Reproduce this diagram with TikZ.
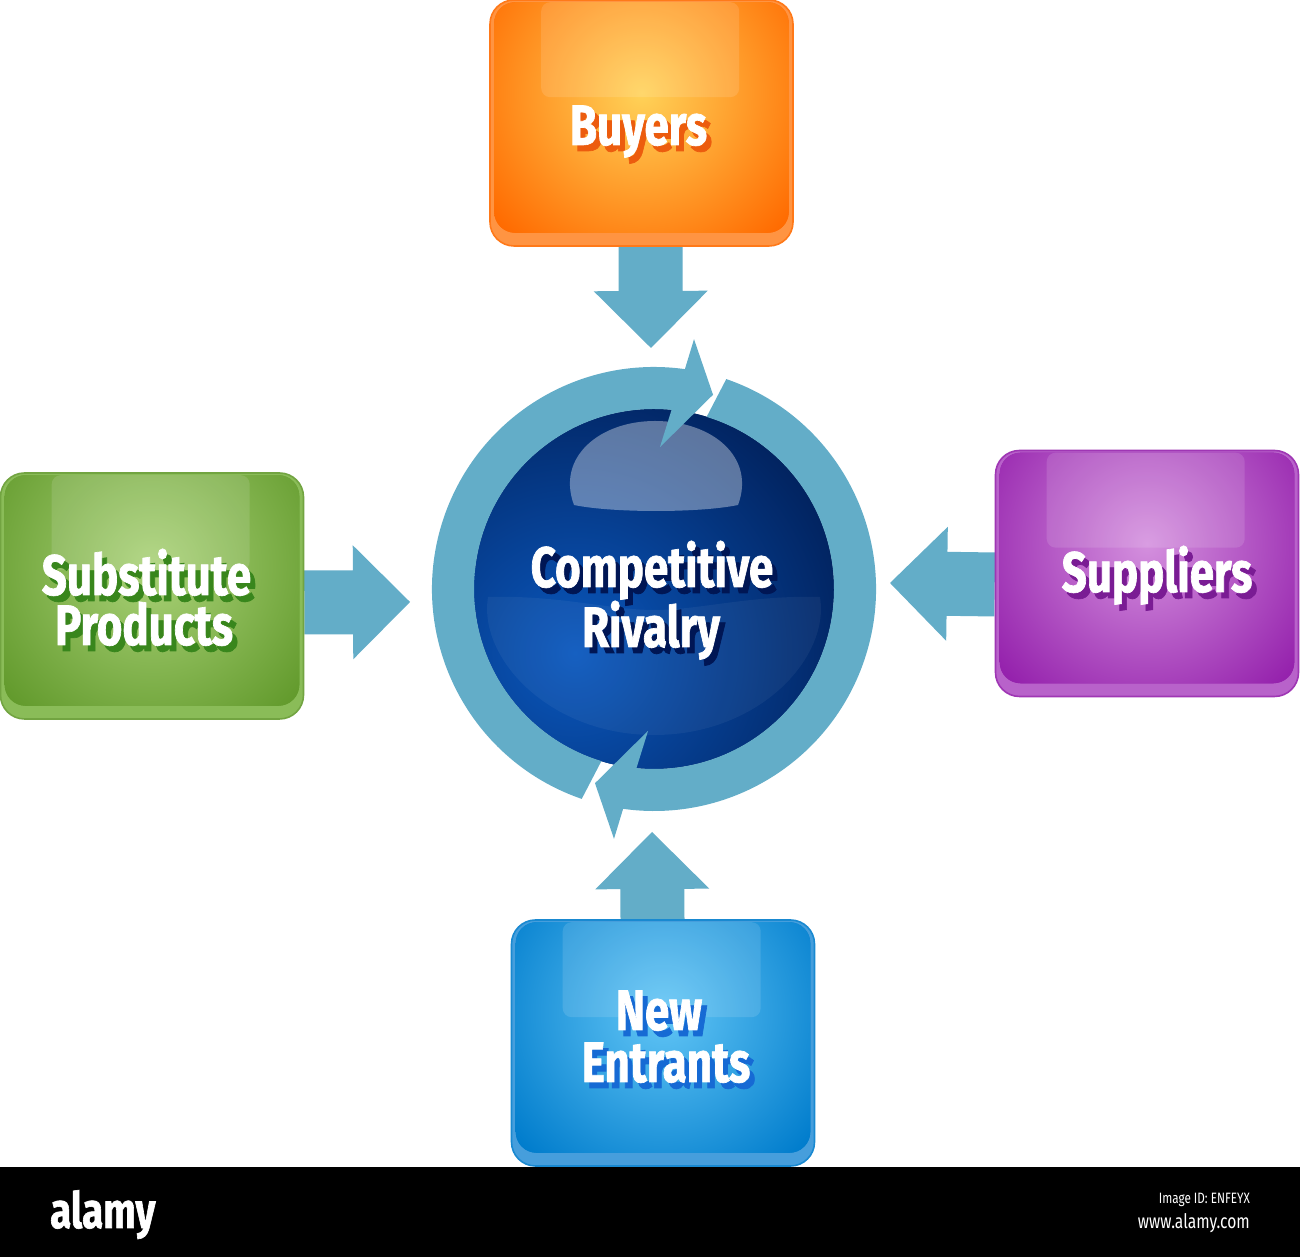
\documentclass[tikz,border=0pt]{standalone}
\usepackage{fontspec}
\newfontfamily\cf[FakeStretch=0.78]{Fira Sans}
\newfontfamily\cfb[FakeStretch=0.77,FakeBold=1.2]{Fira Sans}
\usetikzlibrary{calc}
\definecolor{arrc}{RGB}{99,173,200}
\definecolor{oraO}{RGB}{255,106,0}
\definecolor{oraC}{RGB}{255,210,88}
\definecolor{oraL}{RGB}{255,148,66}
\definecolor{oraS}{RGB}{236,92,14}
\definecolor{greO}{RGB}{98,154,44}
\definecolor{greC}{RGB}{170,210,120}
\definecolor{greL}{RGB}{138,188,88}
\definecolor{greS}{RGB}{56,134,28}
\definecolor{purO}{RGB}{148,32,172}
\definecolor{purC}{RGB}{212,144,222}
\definecolor{purL}{RGB}{184,98,202}
\definecolor{purS}{RGB}{122,28,148}
\definecolor{bluO}{RGB}{0,124,204}
\definecolor{bluC}{RGB}{98,198,246}
\definecolor{bluL}{RGB}{70,158,220}
\definecolor{bluS}{RGB}{22,106,212}
\definecolor{navO}{RGB}{1,32,90}
\definecolor{navC}{RGB}{10,88,190}
\definecolor{navS}{RGB}{0,22,84}
\tikzset{
  boxnode/.style={rectangle, rounded corners=24pt, minimum width=303pt, minimum height=246pt, inner sep=0pt, line width=1.6pt},
  lbl/.style={font=\cfb\bfseries\fontsize{57}{60}\selectfont, inner sep=0pt, anchor=base},
}
\newcommand\glossbox[3]{%
  \node[boxnode, fill=#3L, draw=#3O!90!white] (#1) at #2 {};
  \begin{scope}
    \clip[rounded corners=21pt] ($(#1.south west)+(5,14)$) rectangle ($(#1.north east)+(-5,-3)$);
    \fill[#3O] (#1.south west) rectangle (#1.north east);
    \shade[inner color=#3C, outer color=#3O] ($(#1.center)+(0,30)$) circle (195pt);
  \end{scope}
  \fill[white, opacity=0.12, rounded corners=9pt] ($(#1.north west)+(52,-3)$) rectangle ($(#1.north west)+(250,-98)$);
}
\newcommand\stxt[4]{%
  \node[lbl, text=#3] at ($#2+(5,-6)$) {#4};
  \node[lbl, text=white] (#1) at #2 {#4};
}
\newcommand\barrow[2]{%
  \path #1 coordinate (ba) #2 coordinate (bb);
  \coordinate (bh) at ($(bb)!57pt!(ba)$);
  \fill[arrc] ($(ba)!32pt!90:(bb)$) -- ($(bh)!32pt!-90:(ba)$) -- ($(bh)!57pt!-90:(ba)$) -- (bb)
     -- ($(bh)!57pt!90:(ba)$) -- ($(bh)!32pt!90:(ba)$) -- ($(ba)!32pt!-90:(bb)$) -- cycle;
}
\newcommand\ringarc{(251:222pt) arc[start angle=251, end angle=82, radius=222pt] -- (80.9:253pt) -- (73.1:203pt) -- (87.6:142pt) -- (84.4:180pt) arc[start angle=84.4, end angle=253, radius=180pt] -- cycle}
\begin{document}
\begin{tikzpicture}[x=1pt,y=1pt]
\useasboundingbox (0,0) rectangle (1300,1257);
\fill[white] (0,0) rectangle (1300,1257);

% boxes (positions)
\path (641.5,1134) node[boxnode] (buy) {}
      (152,661) node[boxnode] (sub) {}
      (1147,683.5) node[boxnode] (sup) {}
      (663,214) node[boxnode] (new) {};

% block arrows
\barrow{($(buy.south)+(9,0)$)}{(651,909)}
\barrow{($(sub.east)+(0,-6.5)$)}{(410,655)}
\barrow{($(sup.west)+(0,-11)$)}{(890,674)}
\barrow{($(new.north)+(-10.5,0)$)}{(652,425)}

% boxes drawn
\glossbox{buy}{(641.5,1134)}{ora}
\glossbox{sub}{(152,661)}{gre}
\glossbox{sup}{(1147,683.5)}{pur}
\glossbox{new}{(663,214)}{blu}

% central circle
\node[circle, minimum size=360pt, inner sep=0pt, fill=navO] (riv) at (654,668) {};
\begin{scope}
  \clip (riv.center) circle (180pt);
  \shade[inner color=navC, outer color=navO] (575,604) circle (300pt);
  \fill[white, opacity=0.05] (488,660) .. controls (560,662) and (610,647) .. (654,647)
     .. controls (700,647) and (750,662) .. (820,660) .. controls (830,600) and (760,522) .. (654,522)
     .. controls (548,522) and (478,600) .. cycle;
\end{scope}
\fill[white, opacity=0.36] (574,752) .. controls (556,800) and (600,836) .. (655,836)
   .. controls (712,836) and (756,800) .. (738,752) .. controls (700,744) and (612,744) .. cycle;
\begin{scope}[shift={(riv.center)}]
  \fill[arrc] \ringarc;
  \fill[arrc, rotate=180] \ringarc;
\end{scope}

% labels
\stxt{tbuy}{(638.5,1112)}{oraS}{Buyers}
\stxt{tsub1}{(146.5,662)}{greS}{Substitute}
\stxt{tsub2}{(144,612)}{greS}{Products}
\stxt{tsup}{(1157,665)}{purS}{Suppliers}
\stxt{tnew1}{(659,227)}{bluS}{New}
\stxt{tnew2}{(666,175)}{bluS}{Entrants}
\stxt{triv1}{(652,670)}{navS}{Competitive}
\stxt{triv2}{(651,610)}{navS}{Rivalry}

% bottom bar
\fill[black] (0,0) rectangle (1300,90);
\node[font=\cfb\bfseries\fontsize{50}{50}\selectfont, text=white, inner sep=0pt, anchor=base west] (logo) at (50,29) {alamy};
\node[font=\cf\fontsize{15}{15}\selectfont, text=white, inner sep=0pt, anchor=base east] (imgid) at (1250,53) {Image ID: ENFEYX};
\node[font=\cf\fontsize{20}{20}\selectfont, text=white, inner sep=0pt, anchor=base east] (www) at (1250,28) {www.alamy.com};
\end{tikzpicture}
\end{document}
